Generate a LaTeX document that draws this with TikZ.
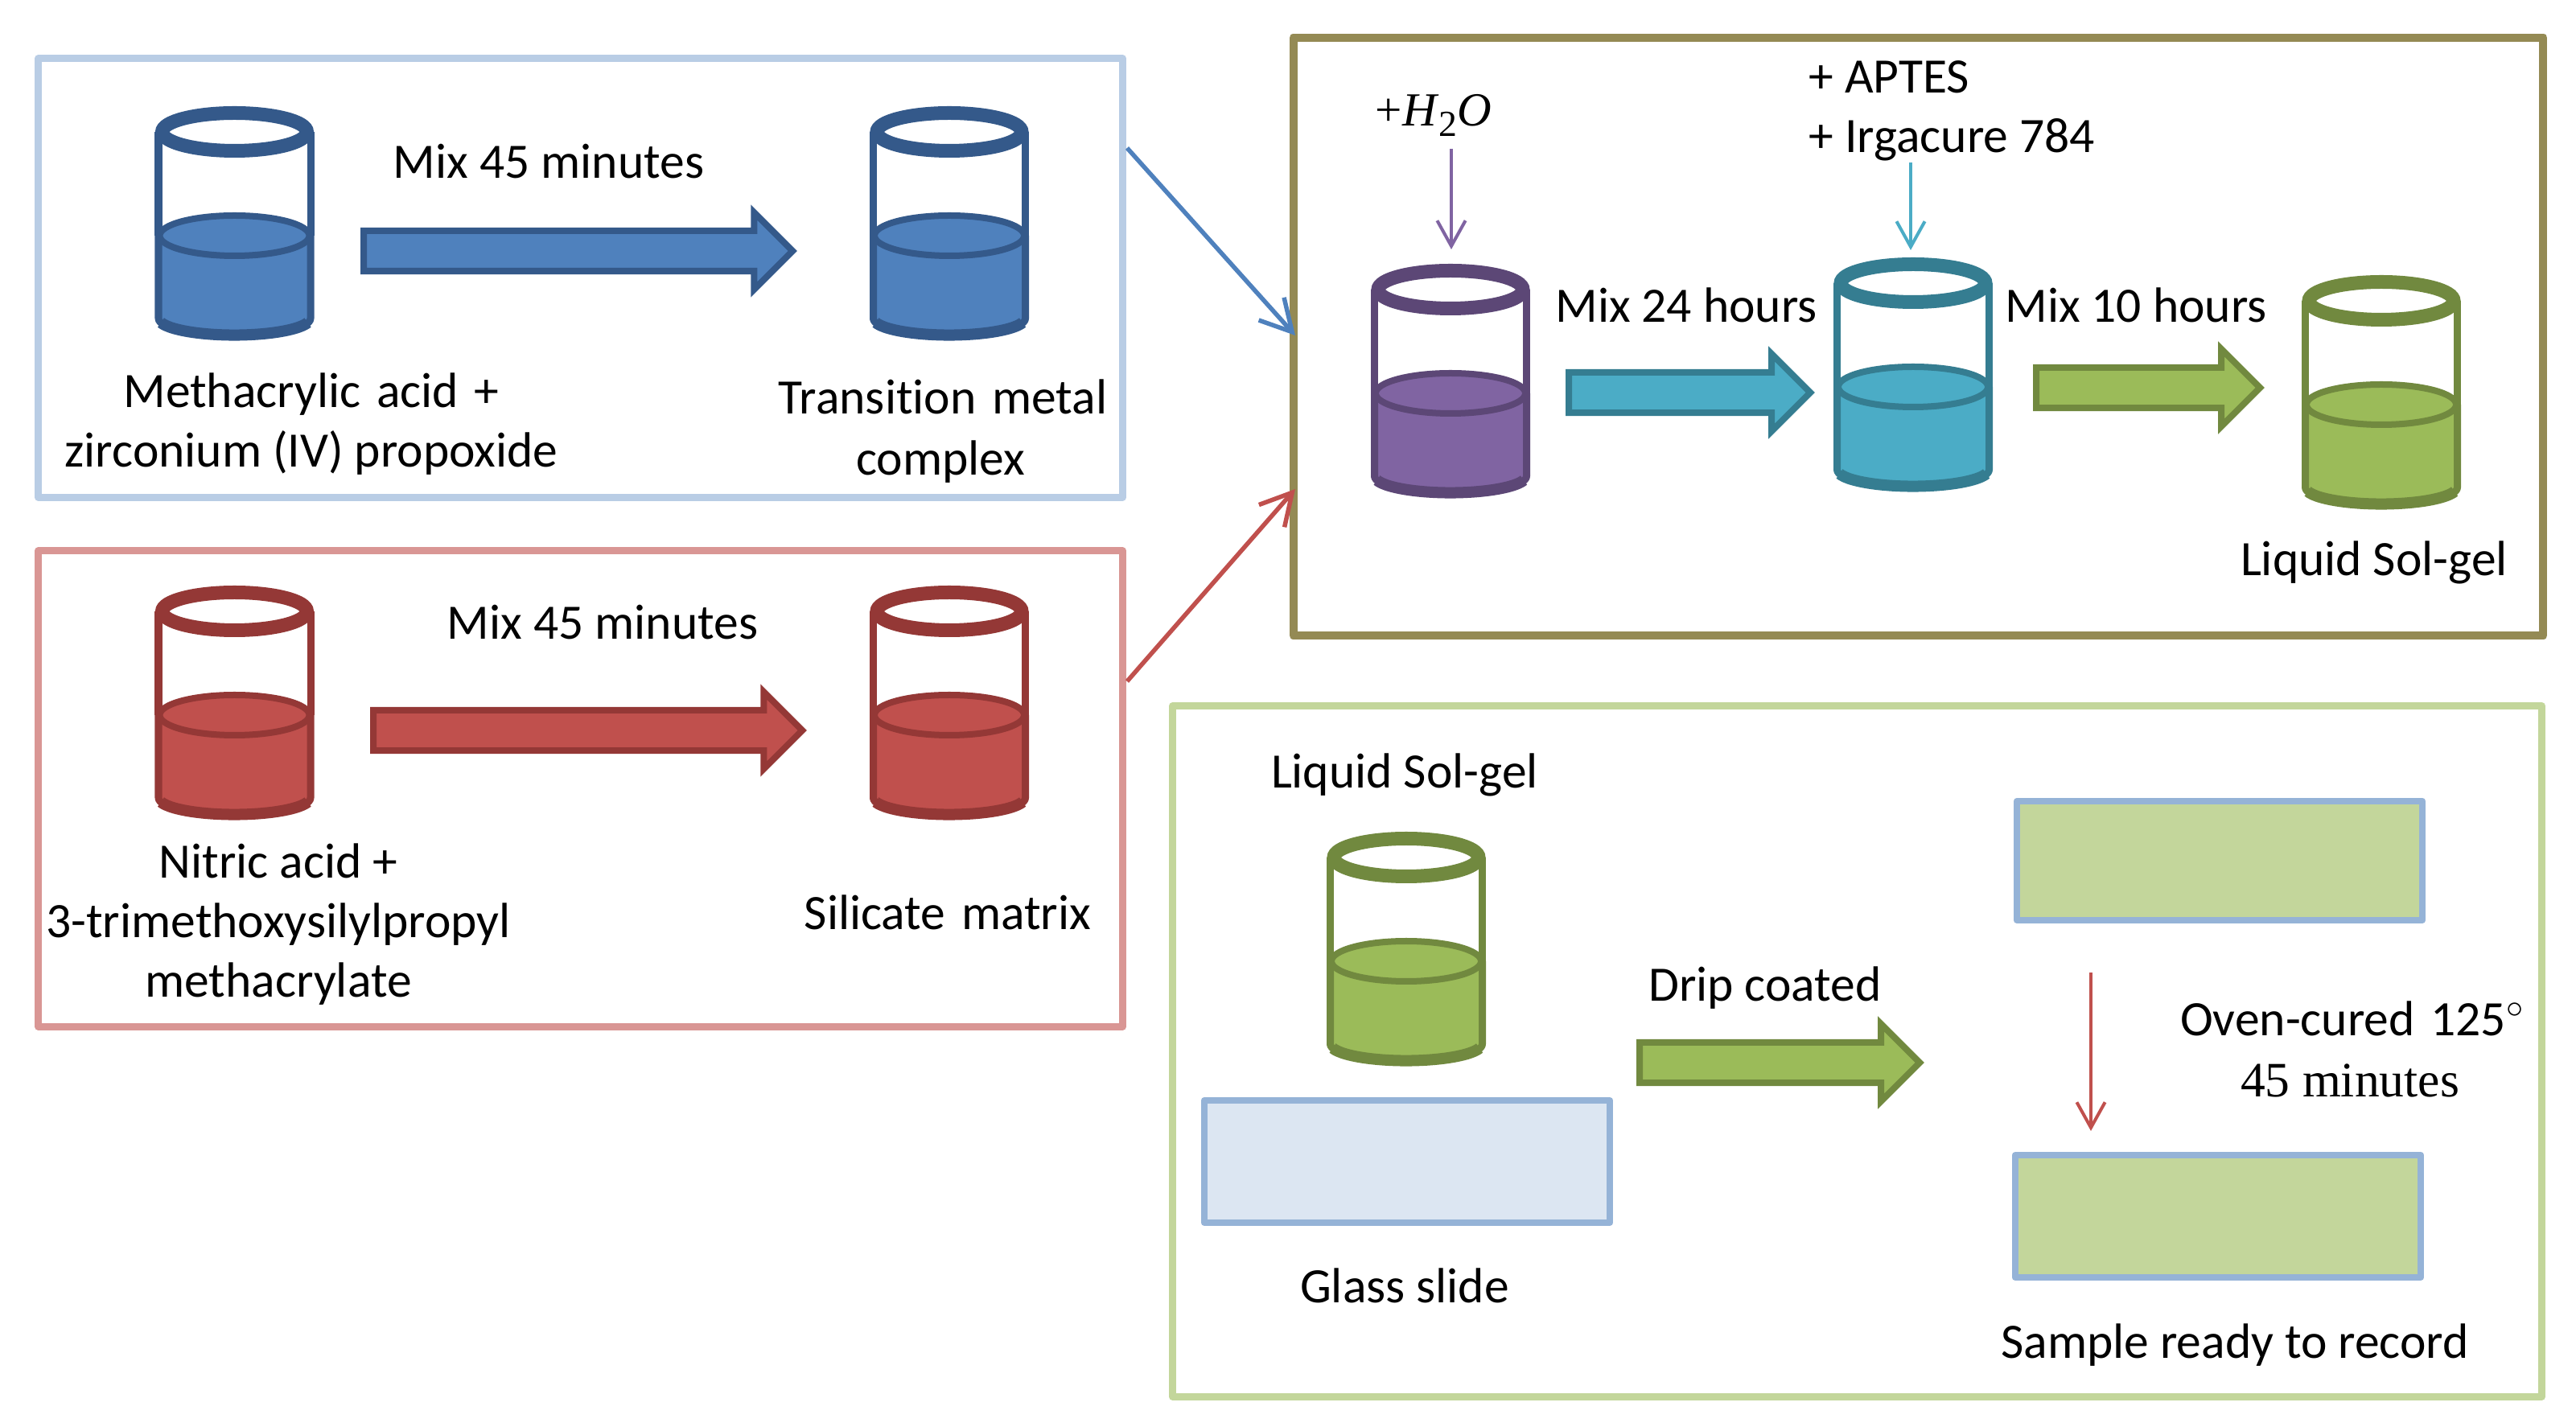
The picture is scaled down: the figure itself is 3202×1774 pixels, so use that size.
\documentclass[tikz,border=0pt]{standalone}
\usepackage{fontspec}
\setmainfont[Ligatures=NoCommon]{Carlito}
\newfontfamily\cambria{Liberation Serif}
\usetikzlibrary{arrows.meta,shapes.arrows}

\definecolor{bluefill}{HTML}{4F81BD}
\definecolor{blueline}{HTML}{34598A}
\definecolor{redfill}{HTML}{C0504D}
\definecolor{redline}{HTML}{943836}
\definecolor{purplefill}{HTML}{8064A2}
\definecolor{purpleline}{HTML}{5C4776}
\definecolor{tealfill}{HTML}{4BACC6}
\definecolor{tealline}{HTML}{357D91}
\definecolor{greenfill}{HTML}{9BBB59}
\definecolor{greenline}{HTML}{71893F}
\definecolor{slidefill}{HTML}{DCE6F2}
\definecolor{slideline}{HTML}{95B3D7}
\definecolor{coatfill}{HTML}{C3D69B}
\definecolor{bluebox}{HTML}{B9CDE5}
\definecolor{redbox}{HTML}{D99694}
\definecolor{mixbox}{HTML}{948A54}

\def\px{0.2845pt}

% cx, top, liquid, line
\newcommand\beaker[4]{%
  \begin{scope}[shift={(#1,#2)}]
    \draw[draw=#4,fill=#3,line width=9*\px,line join=round]
      (-94.5,161) -- (-94.5,264) arc[start angle=180,end angle=0,x radius=94.5,y radius=21] -- (94.5,161);
    \draw[draw=#4,line width=14*\px] (-91.5,269) arc[start angle=165,end angle=15,x radius=94.5,y radius=21];
    \draw[draw=#4,line width=9*\px] (-94.5,32) -- (-94.5,161) (94.5,32) -- (94.5,161);
    \draw[draw=#4,fill=#3,line width=8*\px] (0,161) ellipse[x radius=93,y radius=25];
    \draw[draw=#4,fill=white,line width=17*\px] (0,32) ellipse[x radius=90,y radius=23.5];
  \end{scope}}

\begin{document}
\begin{tikzpicture}[x=0.01cm,y=-0.01cm,
    lbl/.style={font=\fontsize{17.5}{21}\selectfont,inner sep=0pt,text height=14.3pt,text depth=3pt,text=black},
    widelbl/.style={lbl,execute at begin node={\spaceskip=5.6pt\relax}},
    box/.style={draw,rectangle,inner sep=0pt,outer sep=0pt,line join=round,line width=9*\px},
    plate/.style={draw=slideline,rectangle,inner sep=0pt,outer sep=0pt,line join=round,line width=8*\px},
    blockarrow/.style={single arrow,draw,inner xsep=0pt,inner ysep=0.21cm,outer sep=0pt,anchor=tail,line width=8*\px,
      minimum width=0.88cm,single arrow head extend=0.23cm,single arrow tip angle=90,single arrow head indent=0pt},
    thinarrow/.style={-{Straight Barb[length=9pt,width=10pt]},line width=4*\px},
    feedarrow/.style={-{Straight Barb[length=11pt,width=12pt]},line width=5.5*\px},
  ]
  \useasboundingbox (0,0) rectangle (3202,1774);

  % boxes
  \node[box,draw=bluebox,minimum width=13.47cm,minimum height=5.45cm] (bluebox) at (721.5,345.5) {};
  \node[box,draw=redbox,minimum width=13.47cm,minimum height=5.91cm] (redbox) at (721.5,980.5) {};
  \node[box,draw=mixbox,minimum width=15.53cm,minimum height=7.43cm,line width=10*\px] (mixbox) at (2384.5,418.5) {};
  \node[box,draw=coatfill,minimum width=17.01cm,minimum height=8.58cm] (coatbox) at (2308.5,1307) {};

  % beakers
  \beaker{291.5}{132}{bluefill}{blueline}
  \beaker{1180}{132}{bluefill}{blueline}
  \beaker{291.5}{728}{redfill}{redline}
  \beaker{1180}{728}{redfill}{redline}
  \beaker{1803}{328}{purplefill}{purpleline}
  \beaker{2378}{320}{tealfill}{tealline}
  \beaker{2960}{342}{greenfill}{greenline}
  \beaker{1748}{1034}{greenfill}{greenline}

  % block arrows
  \node[blockarrow,fill=bluefill,draw=blueline,minimum height=5.33cm] (mixa) at (452,312) {};
  \node[blockarrow,fill=redfill,draw=redline,minimum height=5.33cm] (mixb) at (464,908) {};
  \node[blockarrow,fill=tealfill,draw=tealline,minimum height=3.00cm] (mixc) at (1950,488) {};
  \node[blockarrow,fill=greenfill,draw=greenline,minimum height=2.78cm] (mixd) at (2531,482) {};
  \node[blockarrow,fill=greenfill,draw=greenline,minimum height=3.48cm] (drip) at (2038,1321) {};

  % plates
  \node[plate,fill=slidefill,minimum width=5.04cm,minimum height=1.52cm] (glass) at (1749,1444) {};
  \node[plate,fill=coatfill,minimum width=5.04cm,minimum height=1.48cm] (coata) at (2759,1070) {};
  \node[plate,fill=coatfill,minimum width=5.04cm,minimum height=1.52cm] (coatb) at (2757,1512) {};

  % connectors
  \coordinate (bluefrom) at (1401,184);
  \coordinate (blueto) at (1610,417);
  \coordinate (redfrom) at (1401,847);
  \coordinate (redto) at (1610,608);
  \coordinate (waterfrom) at (1804,185);
  \coordinate (waterto) at (1804,310);
  \coordinate (aptesfrom) at (2375,202);
  \coordinate (aptesto) at (2375,311);
  \coordinate (ovenfrom) at (2599,1209);
  \coordinate (ovento) at (2599,1406);
  \draw[feedarrow,draw=bluefill] (bluefrom) -- (blueto);
  \draw[feedarrow,draw=redfill] (redfrom) -- (redto);
  \draw[thinarrow,draw=purplefill] (waterfrom) -- (waterto);
  \draw[thinarrow,draw=tealfill] (aptesfrom) -- (aptesto);
  \draw[thinarrow,draw=redfill] (ovenfrom) -- (ovento);

  % labels
  \node[lbl] (t1) at (682,202) {Mix 45 minutes};
  \node[widelbl] (t2) at (387,487) {Methacrylic acid +};
  \node[lbl] (t3) at (387,561) {zirconium (IV) propoxide};
  \node[widelbl] (t4) at (1172,495) {Transition metal};
  \node[lbl] (t5) at (1169,571) {complex};
  \node[lbl] (t6) at (749,775) {Mix 45 minutes};
  \node[lbl] (t7) at (346,1072) {Nitric acid +};
  \node[lbl] (t8) at (346,1146) {3-trimethoxysilylpropyl};
  \node[lbl] (t9) at (346,1220) {methacrylate};
  \node[widelbl] (t10) at (1178,1136) {Silicate matrix};
  \node[lbl,font=\fontsize{16.8}{20}\selectfont\cambria] (t11) at (1782,137) {+\textit{H}\raisebox{-3.5pt}{\fontsize{13}{15}\selectfont 2}\textit{O}};
  \node[lbl,anchor=west] (t12) at (2248,96) {+ APTES};
  \node[lbl,anchor=west] (t13) at (2248,170) {+ Irgacure 784};
  \node[lbl] (t14) at (2096,381) {Mix 24 hours};
  \node[lbl] (t15) at (2655,381) {Mix 10 hours};
  \node[lbl] (t16) at (2951,696) {Liquid Sol-gel};
  \node[lbl] (t17) at (1746,960) {Liquid Sol-gel};
  \node[lbl] (t18) at (1746,1600) {Glass slide};
  \node[lbl] (t19) at (2194,1225) {Drip coated};
  \node[widelbl] (t20) at (2924,1268) {Oven-cured 125$^{\circ}$};
  \node[lbl,font=\fontsize{17.5}{21}\selectfont\cambria] (t21) at (2921,1344) {45 minutes};
  \node[lbl] (t22) at (2778,1669) {Sample ready to record};
\end{tikzpicture}
\end{document}
